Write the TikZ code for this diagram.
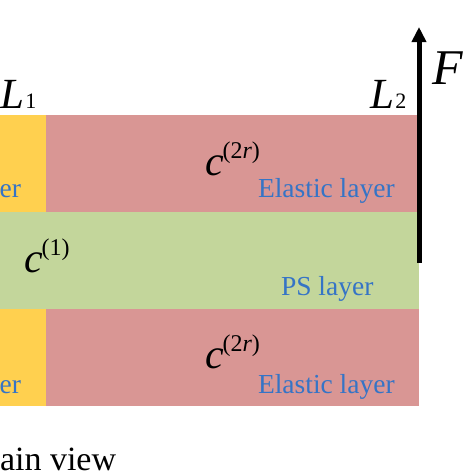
\documentclass[tikz,border=0pt]{standalone}
\usepackage{fontspec}
\setmainfont{Liberation Serif}
\usetikzlibrary{arrows.meta}
\definecolor{elasred}{HTML}{D99694}
\definecolor{psgreen}{HTML}{C3D69B}
\definecolor{endyellow}{HTML}{FFD04F}
\definecolor{labelblue}{HTML}{3574C6}
\tikzset{
  txt/.style={inner sep=0pt, outer sep=0pt, anchor=base west},
  layerlabel/.style={txt, text=labelblue, font=\fontsize{27.5}{30}\selectfont},
  mathlabel/.style={txt, font=\fontsize{42}{46}\selectfont},
  lenlabel/.style={txt, font=\fontsize{43}{46}\selectfont},
}
\newcommand{\supsz}{\fontsize{24}{26}\selectfont}
\newcommand{\subsz}{\fontsize{22}{24}\selectfont}
\begin{document}
\begin{tikzpicture}[x=1pt,y=-1pt]
\useasboundingbox (0,0) rectangle (474,474);
\clip (0,0) rectangle (474,474);
\fill[white] (0,0) rectangle (474,474);
% layers
\fill[endyellow] (0,115) rectangle (46,212);
\fill[elasred] (46,115) rectangle (419,212);
\fill[psgreen] (0,212) rectangle (419,309);
\fill[endyellow] (0,309) rectangle (46,406);
\fill[elasred] (46,309) rectangle (419,406);
% labels
\node[lenlabel] (L1) at (0,108) {\itshape L\hspace{1.5pt}{\upshape\subsz 1}};
\node[lenlabel] (L2) at (370,108) {\itshape L\hspace{1.5pt}{\upshape\subsz 2}};
\node[mathlabel] (c2top) at (205,175) {\itshape c\hspace{-1pt}\raisebox{17pt}{\upshape\supsz (2\itshape r\upshape )}};
\node[mathlabel] (c1) at (24,272) {\itshape c\hspace{-1pt}\raisebox{17pt}{\upshape\supsz (1)}};
\node[mathlabel] (c2bot) at (205,368) {\itshape c\hspace{-1pt}\raisebox{17pt}{\upshape\supsz (2\itshape r\upshape )}};
\node[layerlabel] (eltop) at (258,197) {Elastic layer};
\node[layerlabel] (ps) at (281,295) {PS layer};
\node[layerlabel] (elbot) at (258,393) {Elastic layer};
\node[layerlabel, anchor=base east] (ertop) at (21,197) {er};
\node[layerlabel, anchor=base east] (erbot) at (21,393) {er};
\node[txt, font=\fontsize{34}{38}\selectfont] (view) at (0,470) {ain view};
% force
\coordinate (Fbot) at (419,263);
\coordinate (Ftop) at (419,27);
\draw[line width=5pt, -{Triangle[length=15pt,width=14pt]}] (Fbot) -- (Ftop);
\node[txt, font=\fontsize{50}{54}\selectfont] (F) at (432,84) {\itshape F};
\end{tikzpicture}
\end{document}
